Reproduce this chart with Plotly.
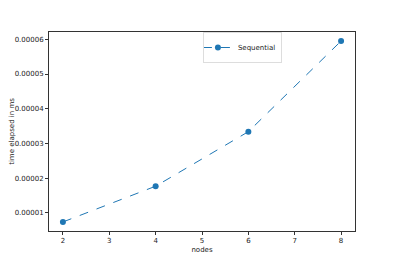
import plotly.graph_objects as go

nodes = [2, 4, 6, 8]
sequential = [7.4e-6, 1.77e-5, 3.34e-5, 5.95e-5]
x_ticks = [2, 3, 4, 5, 6, 7, 8]
y_ticks = [1e-5, 2e-5, 3e-5, 4e-5, 5e-5, 6e-5]
y_tick_labels = ["0.00001", "0.00002", "0.00003", "0.00004", "0.00005", "0.00006"]

fig = go.Figure()
fig.add_trace(go.Scatter(
    x=nodes, y=sequential, mode="lines+markers", name="Sequential",
    line=dict(color="#1f77b4", width=1, dash="dash"),
    marker=dict(color="#1f77b4", size=6),
))

axis_common = dict(
    showline=True, linecolor="#333", linewidth=1, mirror=True,
    ticks="outside", ticklen=3, tickwidth=1, tickcolor="#333",
    showgrid=False, zeroline=False, automargin=False,
    tickfont=dict(size=7, color="#222"),
)

fig.update_layout(
    width=398, height=262,
    margin=dict(l=41, r=51, t=24, b=39),
    paper_bgcolor="white", plot_bgcolor="white",
    font=dict(family="DejaVu Sans", size=7, color="#222"),
    showlegend=True,
    legend=dict(x=0.503, xanchor="left", y=1.0, yanchor="top",
                bordercolor="#dddddd", borderwidth=1, bgcolor="rgba(255,255,255,0.8)",
                font=dict(size=7), itemwidth=30, tracegroupgap=0,
                indentation=-6),
    xaxis=dict(range=[1.7, 8.3], tickvals=x_ticks,
               title=dict(text="nodes", font=dict(size=7), standoff=2), **axis_common),
    yaxis=dict(range=[0.48e-5, 6.21e-5], tickvals=y_ticks, ticktext=y_tick_labels,
               title=dict(text="time elapsed in ms", font=dict(size=7), standoff=4), **axis_common),
)

fig.write_html("out.html")
